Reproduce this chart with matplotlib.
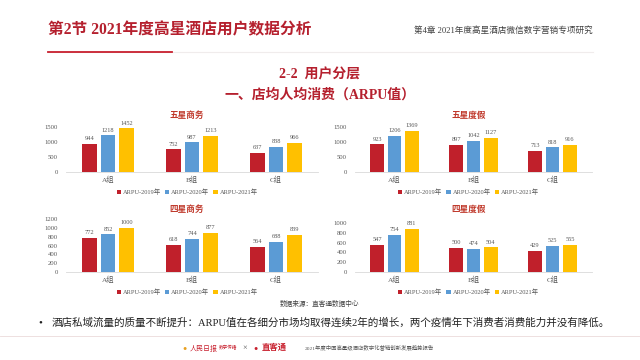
import numpy as np
import matplotlib.pyplot as plt

plt.rcParams['font.family'] = ['Liberation Serif', 'Noto Sans CJK SC']

# data
groups = ['A组', 'B组', 'C组']
series_names = ['ARPU-2019年', 'ARPU-2020年', 'ARPU-2021年']
colors = ['#C0202B', '#5B9BD5', '#FFC000']

wx_biz = [[944, 752, 637], [1218, 987, 838], [1452, 1213, 966]]   # 五星商务
wx_vac = [[923, 897, 713], [1206, 1042, 818], [1369, 1127, 916]]  # 五星度假
sx_biz = [[772, 618, 564], [852, 744, 688], [1000, 877, 839]]     # 四星商务
sx_vac = [[547, 500, 429], [754, 474, 525], [881, 504, 555]]      # 四星度假

panels = [
    ('五星商务', wx_biz, [0, 500, 1000, 1500], [66, 172, 252, 45]),
    ('五星度假', wx_vac, [0, 500, 1000, 1500], [355, 172, 237, 45]),
    ('四星商务', sx_biz, [0, 200, 400, 600, 800, 1000, 1200], [66, 272, 252, 53]),
    ('四星度假', sx_vac, [0, 200, 400, 600, 800, 1000], [355, 272, 237, 49]),
]

W, H = 640, 360
dark_red = '#B5202E'
gray = '#595959'

fig = plt.figure(figsize=(6.4, 3.6), dpi=100)
fig.patch.set_facecolor('white')

# header
fig.text(48 / W, 1 - 30 / H, '第2节 2021年度高星酒店用户数据分析', fontsize=11.3,
         color=dark_red, fontweight='bold', va='center', ha='left')
fig.text(593 / W, 1 - 30 / H, '第4章 2021年度高星酒店微信数字营销专项研究', fontsize=6.2,
         color='#404040', va='center', ha='right')
fig.add_artist(plt.Line2D([48 / W, 593 / W], [1 - 52 / H] * 2, color='#F0ECEC', lw=0.8))
fig.add_artist(plt.Line2D([48 / W, 172 / W], [1 - 52 / H] * 2, color='#C8202E', lw=1.3))

fig.text(0.5, 1 - 75 / H, '2-2  用户分层', fontsize=10, color=dark_red,
         fontweight='bold', ha='center', va='center')
fig.text(0.5, 1 - 95 / H, '一、店均人均消费（ARPU值）', fontsize=10, color=dark_red,
         fontweight='bold', ha='center', va='center')

x = np.arange(len(groups))
width = 0.17
offs = [-0.22, 0, 0.22]

for title, vals, yticks, (px, py, pw, ph) in panels:
    ax = fig.add_axes([px / W, 1 - py / H, pw / W, ph / H])
    for i, (name, c) in enumerate(zip(series_names, colors)):
        bars = ax.bar(x + offs[i], vals[i], width, color=c, label=name)
        ax.bar_label(bars, padding=2, fontsize=4.6, color=gray)
    ax.set_xlim(-0.5, 2.5)
    ax.set_ylim(0, yticks[-1])
    ax.set_yticks(yticks)
    ax.set_xticks(x)
    ax.set_xticklabels(groups, fontsize=5.2, color=gray)
    ax.tick_params(axis='y', labelsize=4.8, labelcolor=gray, length=0, pad=6)
    ax.tick_params(axis='x', length=0, pad=2.5)
    for s in ['top', 'right', 'left']:
        ax.spines[s].set_visible(False)
    ax.spines['bottom'].set_color('#D9D9D9')
    ax.spines['bottom'].set_linewidth(0.6)
    ax.set_facecolor('none')
    cx = (px + pw / 2) / W
    ty = 116 if py < 200 else 210
    fig.text(cx - 5 / W, 1 - ty / H, title, fontsize=6.2, color='#C0392B',
             fontweight='bold', ha='center', va='center')
    ly = 192 if py < 200 else 292
    ax.legend(loc='center', bbox_to_anchor=(cx - 5 / W, 1 - ly / H),
              bbox_transform=fig.transFigure, ncol=3, frameon=False,
              fontsize=4.6, handlelength=0.7, handleheight=0.7,
              columnspacing=0.6, handletextpad=0.3, labelcolor=gray)

fig.text(0.5, 1 - 303 / H, '数据来源：直客通数据中心', fontsize=4.8, color='#404040',
         ha='center', va='center')

fig.text(38 / W, 1 - 323 / H, '•', fontsize=8, color='#222222', ha='left', va='center')
fig.text(52 / W, 1 - 323 / H,
         '酒店私域流量的质量不断提升：ARPU值在各细分市场均取得连续2年的增长，两个疫情年下消费者消费能力并没有降低。',
         fontsize=7.6, color='#222222', ha='left', va='center')

fig.add_artist(plt.Line2D([0, 1], [1 - 336 / H] * 2, color='#EBDADA', lw=0.6))

# footer
fy = 1 - 348 / H
fig.text(182 / W, fy, '●', fontsize=5, color='#E8A020', ha='left', va='center')
fig.text(190 / W, fy, '人民日报', fontsize=5, color='#C8202E', ha='left',
         va='center', style='italic')
fig.text(219 / W, fy, '数字传播', fontsize=3.3, color='#C8202E', ha='left', va='center')
fig.text(242 / W, fy, '×', fontsize=6, color='#555555', ha='left', va='center')
fig.text(253 / W, fy, '●', fontsize=5, color='#C8202E', ha='left', va='center')
fig.text(262 / W, fy, '直客通', fontsize=6, color='#C8202E', ha='left',
         va='center', fontweight='bold', style='italic')
fig.text(305 / W, 1 - 347 / H, '2021年度中国高星级酒店数字化营销创新发展趋势报告',
         fontsize=3.9, color='#555555', ha='left', va='center')

fig.savefig('out.png', dpi=100)
